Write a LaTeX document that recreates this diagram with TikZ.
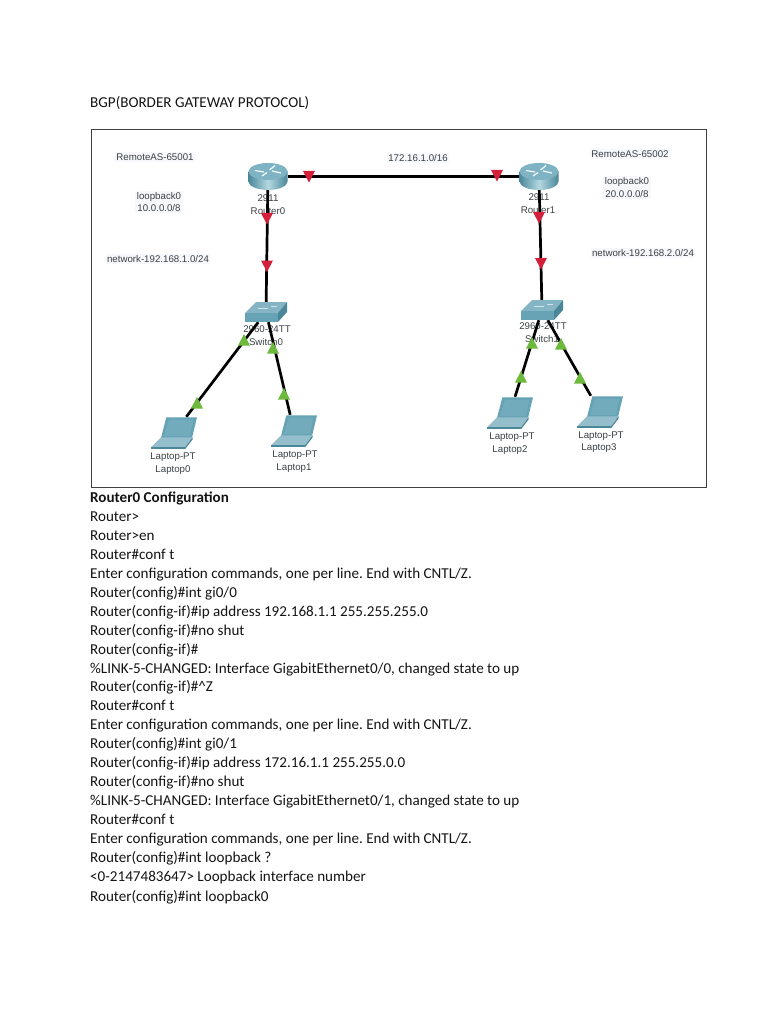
\documentclass[tikz,border=0pt]{standalone}
\usepackage{fontspec}
\setmainfont{Carlito}
\newfontfamily\labelfont{Liberation Sans}
\frenchspacing
\definecolor{tealmid}{HTML}{66A3B5}
\definecolor{teallight}{HTML}{B4D8E2}
\definecolor{tealdark}{HTML}{4A8799}
\definecolor{linkred}{HTML}{D31F3A}
\definecolor{linkgreen}{HTML}{6CB93C}
\definecolor{labelbg}{HTML}{F6F8FB}
\definecolor{labeltext}{HTML}{3A4044}
\tikzset{
  x=1pt,y=-1pt,
  doc/.style={anchor=base west,inner sep=0pt,font=\fontsize{15.1}{17}\selectfont,text=black!92},
  note/.style={inner sep=1.5pt,fill=labelbg,text=labeltext,align=center,font=\labelfont\fontsize{9.7}{12.5}\selectfont},
  devlabel/.style={inner sep=0pt,text=labeltext,font=\labelfont\fontsize{9.7}{11}\selectfont},
  device/.style={inner sep=0pt,minimum width=#1},
  routerbox/.style={device=39pt,minimum height=27pt},
  switchbox/.style={device=42pt,minimum height=20pt},
  laptopbox/.style={device=46pt,minimum height=32pt},
  link/.style={line width=2.7pt,black},
  tridown/.pic={\fill[linkred] (-6,-5.5) -- (6,-5.5) -- (0,6) -- cycle;},
  triup/.pic={\fill[linkgreen] (-6,5.5) -- (6,5.5) -- (0,-6) -- cycle;},
  routericon/.pic={
    \shade[left color=tealdark,right color=tealdark,middle color=teallight]
      (-19.5,-5) -- (-19.5,5) arc[start angle=180,end angle=0,x radius=19.5,y radius=8.5] -- (19.5,-5) -- cycle;
    \fill[tealmid!70!teallight] (0,-5) ellipse[x radius=19.5,y radius=8.5];
    \draw[white!90!teallight,line width=1.2pt] (-13,-6) -- (-4,-4.5) (13,-3.5) -- (4,-5.5) (-6,-0.5) -- (-1,-4) (7,-11) -- (1.5,-6.5);
  },
  switchicon/.pic={
    \fill[tealmid!80!white] (-10,-10) -- (21,-10) -- (12,1) -- (-21,1) -- cycle;
    \fill[tealmid] (-21,1) rectangle (12,10);
    \fill[tealdark] (12,1) -- (21,-10) -- (21,0) -- (12,10) -- cycle;
    \draw[white!70!tealmid,line width=.7pt] (-8,-4) -- (2,-4) (5,-6) -- (11,-6);
  },
  laptopicon/.pic={
    \fill[tealmid] (-7.7,-15.7) -- (23,-15.7) -- (18,5) -- (-13,5) -- cycle;
    \fill[tealmid!85!teallight] (-5,-13.5) -- (19.5,-13.5) -- (15.8,3) -- (-10,3) -- cycle;
    \fill[tealmid!70!white] (-13,4.3) -- (18.7,4.3) -- (11,14.3) -- (-23,14.3) -- cycle;
    \fill[tealdark] (-23,14.3) rectangle (11,16.3);
    \fill[tealdark] (11,14.3) -- (18.7,4.3) -- (18.7,6.3) -- (11,16.3) -- cycle;
  },
}
\begin{document}
\begin{tikzpicture}
\useasboundingbox (0,0) rectangle (768,1024);
\node[doc] (title) at (90,108) {BGP(BORDER GATEWAY PROTOCOL)};
\draw[black!75,line width=1pt] (91,129.5) rectangle (706,487);

% notes
\node[note] (as0) at (155,157) {RemoteAS-65001};
\node[note] (lb0) at (159,202) {loopback0\\10.0.0.0/8};
\node[note] (net0) at (158,259) {network-192.168.1.0/24};
\node[note] (wan) at (418,158) {172.16.1.0/16};
\node[note] (as1) at (630,154) {RemoteAS-65002};
\node[note] (lb1) at (627,187.5) {loopback0\\20.0.0.0/8};
\node[note] (net1) at (643,253) {network-192.168.2.0/24};

% device labels
\node[devlabel] (r0a) at (268,198) {2911};
\node[devlabel] (r0b) at (268,211) {Router0};
\node[devlabel] (r1a) at (539,197) {2911};
\node[devlabel] (r1b) at (538,210) {Router1};
\node[devlabel] (s0a) at (267,329) {2960-24TT};
\node[devlabel] (s0b) at (266,342) {Switch0};
\node[devlabel] (s1a) at (543,326) {2960-24TT};
\node[devlabel] (s1b) at (542,339) {Switch1};
\node[devlabel] (l0a) at (173,457) {Laptop-PT};
\node[devlabel] (l0b) at (173,470) {Laptop0};
\node[devlabel] (l1a) at (295,455) {Laptop-PT};
\node[devlabel] (l1b) at (294,468) {Laptop1};
\node[devlabel] (l2a) at (512,437) {Laptop-PT};
\node[devlabel] (l2b) at (510,450) {Laptop2};
\node[devlabel] (l3a) at (601,436) {Laptop-PT};
\node[devlabel] (l3b) at (599,448) {Laptop3};

% devices
\node[routerbox] (r0) at (268,176.5) {};
\node[routerbox] (r1) at (539,176.5) {};
\node[switchbox] (s0) at (266,312) {};
\node[switchbox] (s1) at (542,310) {};
\node[laptopbox] (l0) at (174,433) {};
\node[laptopbox] (l1) at (294,431) {};
\node[laptopbox] (l2) at (510,413) {};
\node[laptopbox] (l3) at (600,412) {};

% links
\draw[link] (r0) -- (r1);
\draw[link] (r0) -- (s0);
\draw[link] (r1) -- (s1);
\draw[link] (s0) -- (l0);
\draw[link] (s0) -- (l1);
\draw[link] (s1) -- (l2);
\draw[link] (s1) -- (l3);

% icons
\pic at (r0) {routericon};
\pic at (r1) {routericon};
\pic at (s0) {switchicon};
\pic at (s1) {switchicon};
\pic at (l0) {laptopicon};
\pic at (l1) {laptopicon};
\pic at (l2) {laptopicon};
\pic at (l3) {laptopicon};

% link-state triangles
\pic at (309,176.5) {tridown};
\pic at (497,175.5) {tridown};
\pic at (267,218.5) {tridown};
\pic at (267,266) {tridown};
\pic at (539,217.5) {tridown};
\pic at (541,263.5) {tridown};
\pic at (244,340) {triup};
\pic at (197,403) {triup};
\pic at (273,348) {triup};
\pic at (284,394) {triup};
\pic at (532,343) {triup};
\pic at (521,377) {triup};
\pic at (561,344) {triup};
\pic at (580,378) {triup};

% configuration text
\node[doc,font=\fontsize{15.1}{17}\selectfont\bfseries] (t0) at (90,502) {Router0 Configuration};
\node[doc] (t1) at (90,521) {Router>};
\node[doc] (t2) at (90,540) {Router>en};
\node[doc] (t3) at (90,559) {Router\#conf t};
\node[doc] (t4) at (90,578) {Enter configuration commands, one per line. End with CNTL/Z.};
\node[doc] (t5) at (90,597) {Router(config)\#int gi0/0};
\node[doc] (t6) at (90,616) {Router(config-if)\#ip address 192.168.1.1 255.255.255.0};
\node[doc] (t7) at (90,635) {Router(config-if)\#no shut};
\node[doc] (t8) at (90,654) {Router(config-if)\#};
\node[doc] (t9) at (90,673) {\%LINK-5-CHANGED: Interface GigabitEthernet0/0, changed state to up};
\node[doc] (t10) at (90,691) {Router(config-if)\#\textasciicircum Z};
\node[doc] (t11) at (90,710) {Router\#conf t};
\node[doc] (t12) at (90,729) {Enter configuration commands, one per line. End with CNTL/Z.};
\node[doc] (t13) at (90,748) {Router(config)\#int gi0/1};
\node[doc] (t14) at (90,767) {Router(config-if)\#ip address 172.16.1.1 255.255.0.0};
\node[doc] (t15) at (90,786) {Router(config-if)\#no shut};
\node[doc] (t16) at (90,805) {\%LINK-5-CHANGED: Interface GigabitEthernet0/1, changed state to up};
\node[doc] (t17) at (90,824) {Router\#conf t};
\node[doc] (t18) at (90,843) {Enter configuration commands, one per line. End with CNTL/Z.};
\node[doc] (t19) at (90,862) {Router(config)\#int loopback ?};
\node[doc] (t20) at (90,881) {<0-2147483647> Loopback interface number};
\node[doc] (t21) at (90,901) {Router(config)\#int loopback0};
\end{tikzpicture}
\end{document}
